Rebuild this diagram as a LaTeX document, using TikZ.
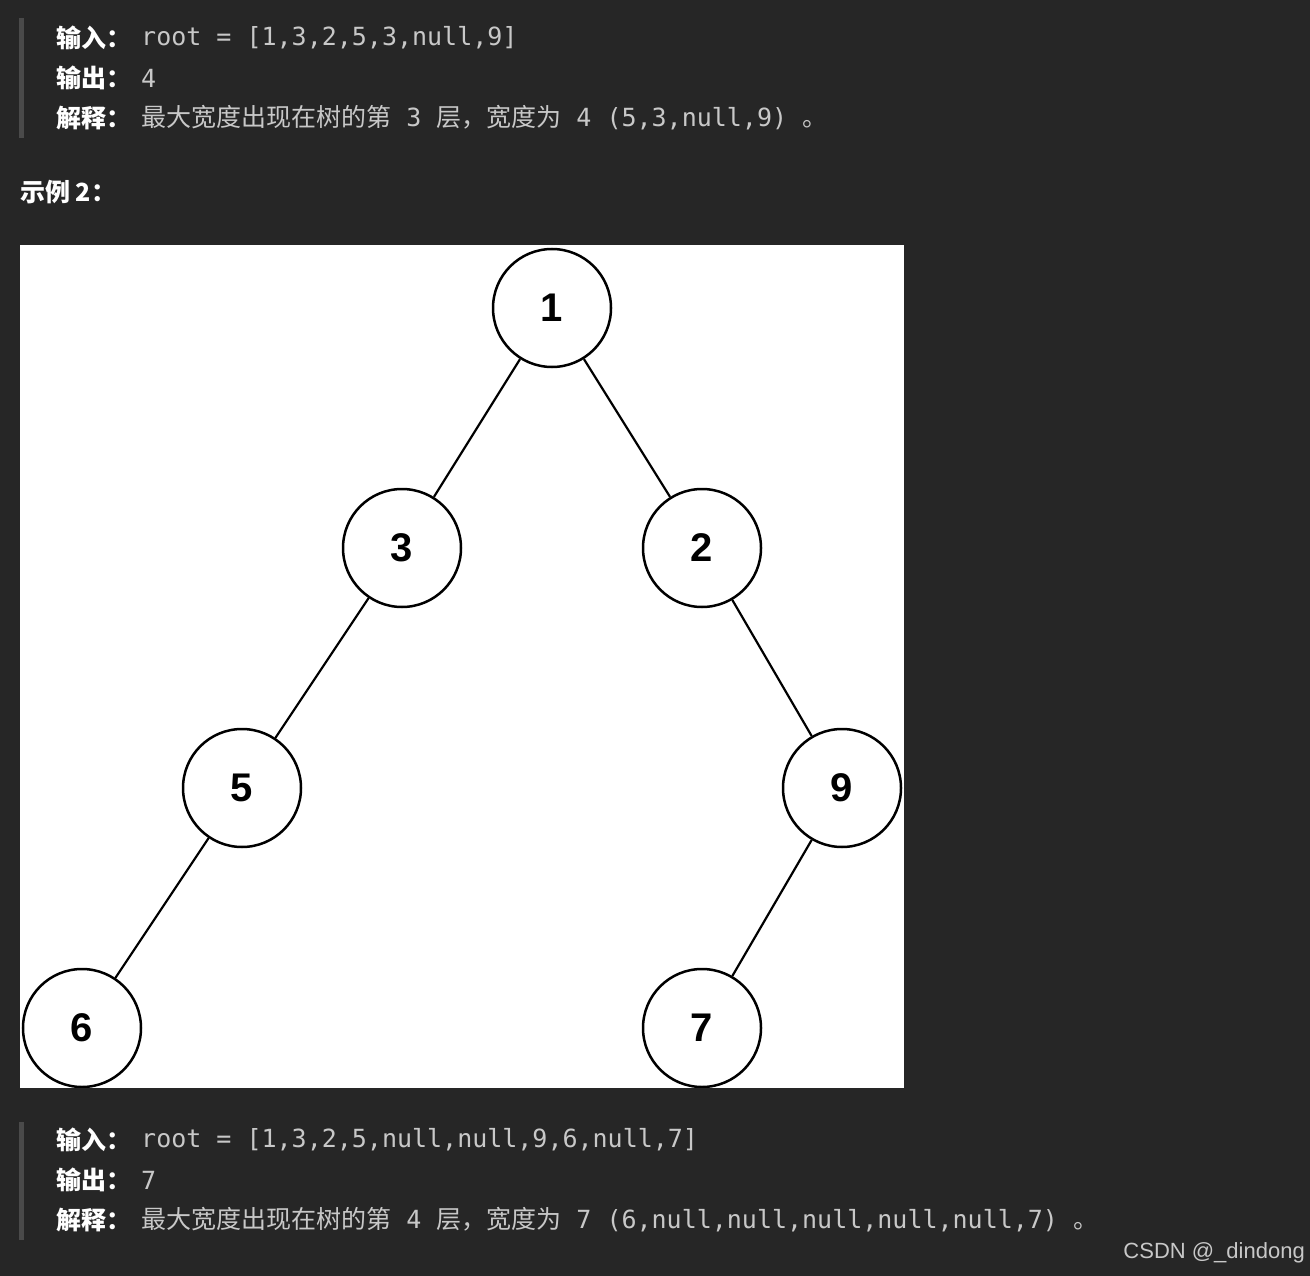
\documentclass[tikz,border=0pt]{standalone}
\usepackage{fontspec}
\setmainfont{Liberation Sans}
\setmonofont{DejaVu Sans Mono}
\newfontfamily\cjk{Noto Sans CJK SC}
\definecolor{bg}{HTML}{262626}
\definecolor{txt}{HTML}{C8C8C8}
\definecolor{barc}{HTML}{4A4A4A}
\begin{document}
\begin{tikzpicture}[x=1pt,y=-1pt,
  tn/.style={circle,draw=black,line width=2.5pt,fill=white,minimum size=118pt,inner sep=0pt,font=\fontsize{40}{40}\selectfont\bfseries},
  ed/.style={line width=2.2pt,black},
  lbl/.style={anchor=west,inner sep=0pt,text=white,font=\cjk\fontsize{25}{25}\selectfont\bfseries},
  code/.style={anchor=west,inner sep=0pt,text=txt,font=\fontsize{25}{25}\selectfont}]
\fill[bg] (0,0) rectangle (1310,1276);
\useasboundingbox (0,0) rectangle (1310,1276);
\fill[barc] (19,18) rectangle (24,138);
\fill[barc] (19,1122) rectangle (24,1240);
\node[lbl] (a1) at (56,38) {输入：};
\node[code] (b1) at (141,38) {\ttfamily root = [1,3,2,5,3,null,9]};
\node[lbl] (a2) at (56,78) {输出：};
\node[code] (b2) at (141,78) {\ttfamily 4};
\node[lbl] (a3) at (56,118) {解释：};
\node[code] (b3) at (141,118) {\cjk 最大宽度出现在树的第\ttfamily{} 3 \cjk 层，宽度为\ttfamily{} 4 (5,3,null,9) \cjk 。};
\node[lbl] (ex) at (20,192) {示例 2：};
\fill[white] (20,245) rectangle (904,1088);
\node[tn] (n1) at (552,308) {1};
\node[tn] (n3) at (402,548) {3};
\node[tn] (n2) at (702,548) {2};
\node[tn] (n5) at (242,788) {5};
\node[tn] (n9) at (842,788) {9};
\node[tn] (n6) at (82,1028) {6};
\node[tn] (n7) at (702,1028) {7};
\draw[ed] (n1)--(n3); \draw[ed] (n1)--(n2); \draw[ed] (n3)--(n5);
\draw[ed] (n2)--(n9); \draw[ed] (n5)--(n6); \draw[ed] (n9)--(n7);
\fill[bg] (0,1088) rectangle (1310,1100);
\node[lbl] (c1) at (56,1140) {输入：};
\node[code] (d1) at (141,1140) {\ttfamily root = [1,3,2,5,null,null,9,6,null,7]};
\node[lbl] (c2) at (56,1180) {输出：};
\node[code] (d2) at (141,1180) {\ttfamily 7};
\node[lbl] (c3) at (56,1220) {解释：};
\node[code] (d3) at (141,1220) {\cjk 最大宽度出现在树的第\ttfamily{} 4 \cjk 层，宽度为\ttfamily{} 7 (6,null,null,null,null,null,7) \cjk 。};
\node[anchor=east,inner sep=0pt,text=txt,font=\fontsize{22}{22}\selectfont] (w) at (1305,1253) {CSDN @\_dindong};
\end{tikzpicture}
\end{document}
